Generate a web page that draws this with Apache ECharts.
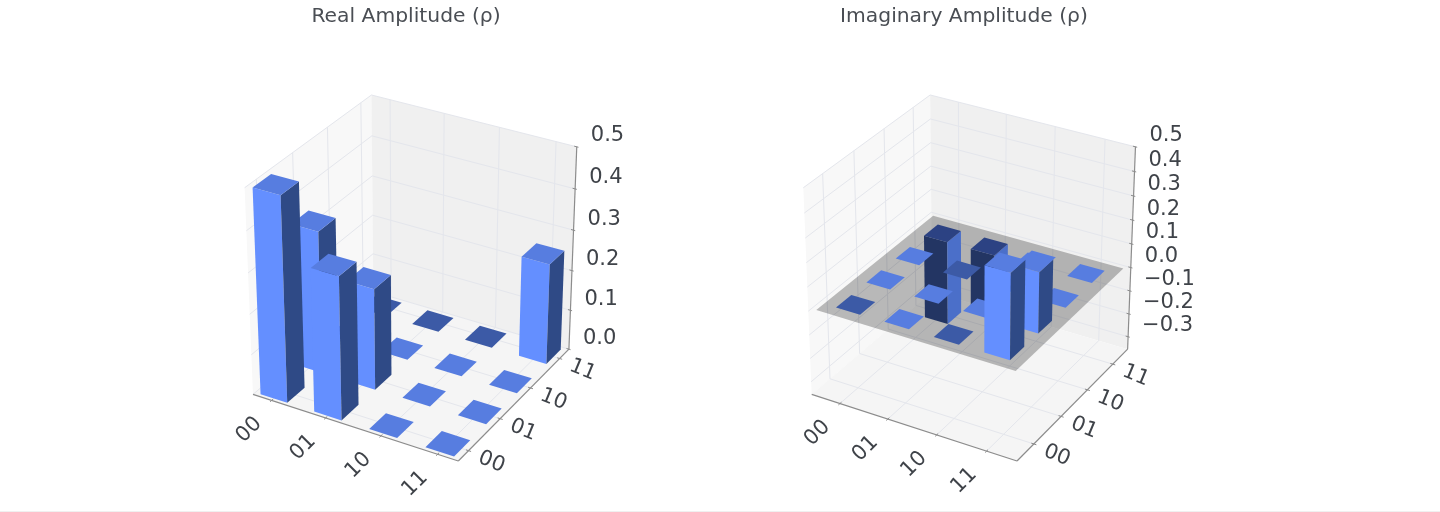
<!DOCTYPE html>
<html>
<head>
<meta charset="utf-8">
<title>Density matrix city plot</title>
<script src="https://cdn.jsdelivr.net/npm/echarts@6/dist/echarts.min.js"></script>
<style>html,body{margin:0;background:#fff}#chart{width:1440px;height:512px}</style>
</head>
<body>
<div id="chart"></div>
<script>
// Density matrix entries, rows are the y basis state, columns the x basis state.
const basisLabels = ['00', '01', '10', '11'];
const realAmplitude = [
  [0.5, 0.35, 0.001, 0.001],
  [0.35, 0.25, 0.001, 0.001],
  [0.001, 0.001, 0.001, 0.001],
  [-0.001, -0.001, -0.001, 0.25]
];
const imagAmplitude = [
  [-0.001, 0.001, -0.001, 0.35],
  [0.001, 0.001, 0.001, 0.25],
  [0.001, -0.001, 0.001, 0.001],
  [-0.36, -0.25, 0.001, 0.001]
];
const realTicks = [0, 0.1, 0.2, 0.3, 0.4, 0.5];
const imagTicks = [-0.3, -0.2, -0.1, 0, 0.1, 0.2, 0.3, 0.4, 0.5];
const realLimits = { x: [0.15, 3.86], y: [0.186, 3.826], z: [0, 0.5] };
const imagLimits = { x: [-0.1, 4.1], y: [-0.1, 4.1], z: [-0.355, 0.5] };

const INK = '#3f4349';
const FONT = '"DejaVu Sans", sans-serif';
const GRID = '#e4e6ec';
const AXIS = '#8c8c8c';
const POS = { front: '#648fff', side: '#2f4a86', top: '#577de0', flat: '#577de0' };
const NEG = { front: '#233563', side: '#4b6fc9', top: '#2c4283', flat: '#3c5aa6' };

// Perspective camera used by both panels: elevation 30, azimuth -60, distance 10.
function project(p) {
  const qx = p[0] - 0.5, qy = p[1] - 0.5, qz = p[2] - 0.5;
  const c = Math.cos(Math.PI / 6), s = 0.5;
  const ca = 0.5, sa = -c;
  const wx = c * ca, wy = c * sa, wz = s;
  const ux = -sa, uy = ca;
  const vx = -wz * uy, vy = wz * ux, vz = wx * uy - wy * ux;
  const d = 10 - (wx * qx + wy * qy + wz * qz);
  return [(ux * qx + uy * qy) / d, (vx * qx + vy * qy + vz * qz) / d];
}

function buildPanel(matrix, ticks, limits) {
  const shapes = [];
  const nx = v => (v - limits.x[0]) / (limits.x[1] - limits.x[0]);
  const ny = v => (v - limits.y[0]) / (limits.y[1] - limits.y[0]);
  const nz = v => (v - limits.z[0]) / (limits.z[1] - limits.z[0]);
  const poly = (pts, fill) => shapes.push({ kind: 'poly', pts: pts.map(project), fill });
  const line = (a, b, color, width) => shapes.push({ kind: 'line', pts: [project(a), project(b)], color, width });
  const text = (anchor, dx, dy, str, rotation, align) => shapes.push({ kind: 'text', pts: [project(anchor)], dx, dy, str, rotation, align });

  // Three panes of the box
  poly([[0, 0, 0], [0, 1, 0], [0, 1, 1], [0, 0, 1]], '#f8f8f8');
  poly([[0, 1, 0], [1, 1, 0], [1, 1, 1], [0, 1, 1]], '#f0f0f0');
  poly([[0, 0, 0], [1, 0, 0], [1, 1, 0], [0, 1, 0]], '#f5f5f5');

  // Grid lines on the panes
  const centersX = basisLabels.map((_, i) => nx(i + 0.5));
  const centersY = basisLabels.map((_, i) => ny(i + 0.5));
  basisLabels.forEach((_, i) => {
    const tx = centersX[i], ty = centersY[i];
    line([tx, 0, 0], [tx, 1, 0], GRID, 1);
    line([tx, 1, 0], [tx, 1, 1], GRID, 1);
    line([0, ty, 0], [1, ty, 0], GRID, 1);
    line([0, ty, 0], [0, ty, 1], GRID, 1);
  });
  ticks.forEach(v => {
    const t = nz(v);
    line([0, 0, t], [0, 1, t], GRID, 1);
    line([0, 1, t], [1, 1, t], GRID, 1);
  });

  // Translucent plane at zero for the panel that has negative entries
  if (limits.z[0] < 0) {
    const z0 = nz(0);
    poly([[nx(0), ny(0), z0], [nx(4), ny(0), z0], [nx(4), ny(4), z0], [nx(0), ny(4), z0]], 'rgba(0,0,0,0.26)');
  }

  // Bars, far ones first
  const bars = [];
  matrix.forEach((row, j) => row.forEach((value, i) => {
    const depth = 0.433 * (i + 0.5) - 0.75 * (j + 0.5);
    bars.push({ i, j, value, depth });
  }));
  bars.sort((p, q) => p.depth - q.depth);
  bars.forEach(({ i, j, value }) => {
    const x0 = nx(i + 0.25), x1 = nx(i + 0.75), y0 = ny(j + 0.25), y1 = ny(j + 0.75);
    const zA = nz(Math.min(0, value)), zB = nz(Math.max(0, value));
    const tone = value >= 0 ? POS : NEG;
    if (Math.abs(value) < 0.01) {
      poly([[x0, y0, zB], [x1, y0, zB], [x1, y1, zB], [x0, y1, zB]], tone.flat);
      return;
    }
    poly([[x0, y0, zA], [x1, y0, zA], [x1, y0, zB], [x0, y0, zB]], tone.front);
    poly([[x1, y0, zA], [x1, y1, zA], [x1, y1, zB], [x1, y0, zB]], tone.side);
    poly([[x0, y0, zB], [x1, y0, zB], [x1, y1, zB], [x0, y1, zB]], tone.top);
  });

  // Axis lines, tick marks and tick labels
  line([0, 0, 0], [1, 0, 0], AXIS, 1.2);
  line([1, 0, 0], [1, 1, 0], AXIS, 1.2);
  line([1, 1, 0], [1, 1, 1], AXIS, 1.2);
  basisLabels.forEach((label, i) => {
    const tx = centersX[i], ty = centersY[i];
    line([tx, -0.012, 0], [tx, 0.012, 0], AXIS, 1);
    line([1 - 0.012, ty, 0], [1 + 0.012, ty, 0], AXIS, 1);
    text([tx, 0, 0], -22.5, 29.5, label, Math.PI / 4, 'center');
    text([1, ty, 0], 23, 11.5, label, -Math.PI / 8, 'center');
  });
  ticks.forEach(v => {
    const t = nz(v);
    line([1 - 0.012, 1, t], [1 + 0.008, 1, t], AXIS, 1);
    const str = v < 0 ? '\u2212' + (-v).toFixed(1) : v.toFixed(1);
    text([1, 1, t], 14, -11, str, 0, 'left');
  });
  return shapes;
}

function panelSeries(shapes, gridIndex) {
  return {
    type: 'custom',
    coordinateSystem: 'cartesian2d',
    xAxisIndex: gridIndex,
    yAxisIndex: gridIndex,
    silent: true,
    clip: false,
    data: shapes.map(s => s.pts[0]),
    renderItem(params, api) {
      const s = shapes[params.dataIndex];
      const pts = s.pts.map(p => api.coord(p));
      if (s.kind === 'poly') {
        return { type: 'polygon', shape: { points: pts }, style: { fill: s.fill, stroke: null } };
      }
      if (s.kind === 'line') {
        return {
          type: 'line',
          shape: { x1: pts[0][0], y1: pts[0][1], x2: pts[1][0], y2: pts[1][1] },
          style: { stroke: s.color, lineWidth: s.width }
        };
      }
      return {
        type: 'text',
        x: pts[0][0] + s.dx,
        y: pts[0][1] + s.dy,
        rotation: s.rotation,
        style: { text: s.str, fill: INK, font: '21px ' + FONT, align: s.align, verticalAlign: 'middle' }
      };
    }
  };
}

// The projected plane is mapped to the page through two hidden value axes per panel.
const SCALE_X = 2370, SCALE_Y = 2360, ORIGIN_Y = 271.75;
const originX = [413.4, 972.1];
const panelLeft = [0, 720];
const grids = panelLeft.map(left => ({ left, top: 0, width: 720, height: 512 }));
const xAxes = panelLeft.map((left, k) => ({
  type: 'value', gridIndex: k, show: false,
  min: (left - originX[k]) / SCALE_X,
  max: (left + 720 - originX[k]) / SCALE_X
}));
const yAxes = panelLeft.map((_, k) => ({
  type: 'value', gridIndex: k, show: false,
  min: (ORIGIN_Y - 512) / SCALE_Y,
  max: ORIGIN_Y / SCALE_Y
}));

const chart = echarts.init(document.getElementById('chart'), null, { renderer: 'canvas' });
chart.setOption({
  animation: false,
  backgroundColor: '#ffffff',
  title: [
    { text: 'Real Amplitude (\u03c1)', left: 401, top: 2, textAlign: 'center' },
    { text: 'Imaginary Amplitude (\u03c1)', left: 959, top: 2, textAlign: 'center' }
  ].map(t => Object.assign(t, { textStyle: { fontFamily: FONT, fontSize: 20.3, fontWeight: 'normal', color: '#4a4e54' } })),
  grid: grids,
  xAxis: xAxes,
  yAxis: yAxes,
  graphic: [{ type: 'rect', shape: { x: 0, y: 511, width: 1440, height: 1 }, style: { fill: '#f0f0f0' }, silent: true }],
  series: [
    panelSeries(buildPanel(realAmplitude, realTicks, realLimits), 0),
    panelSeries(buildPanel(imagAmplitude, imagTicks, imagLimits), 1)
  ]
});
</script>
</body>
</html>
